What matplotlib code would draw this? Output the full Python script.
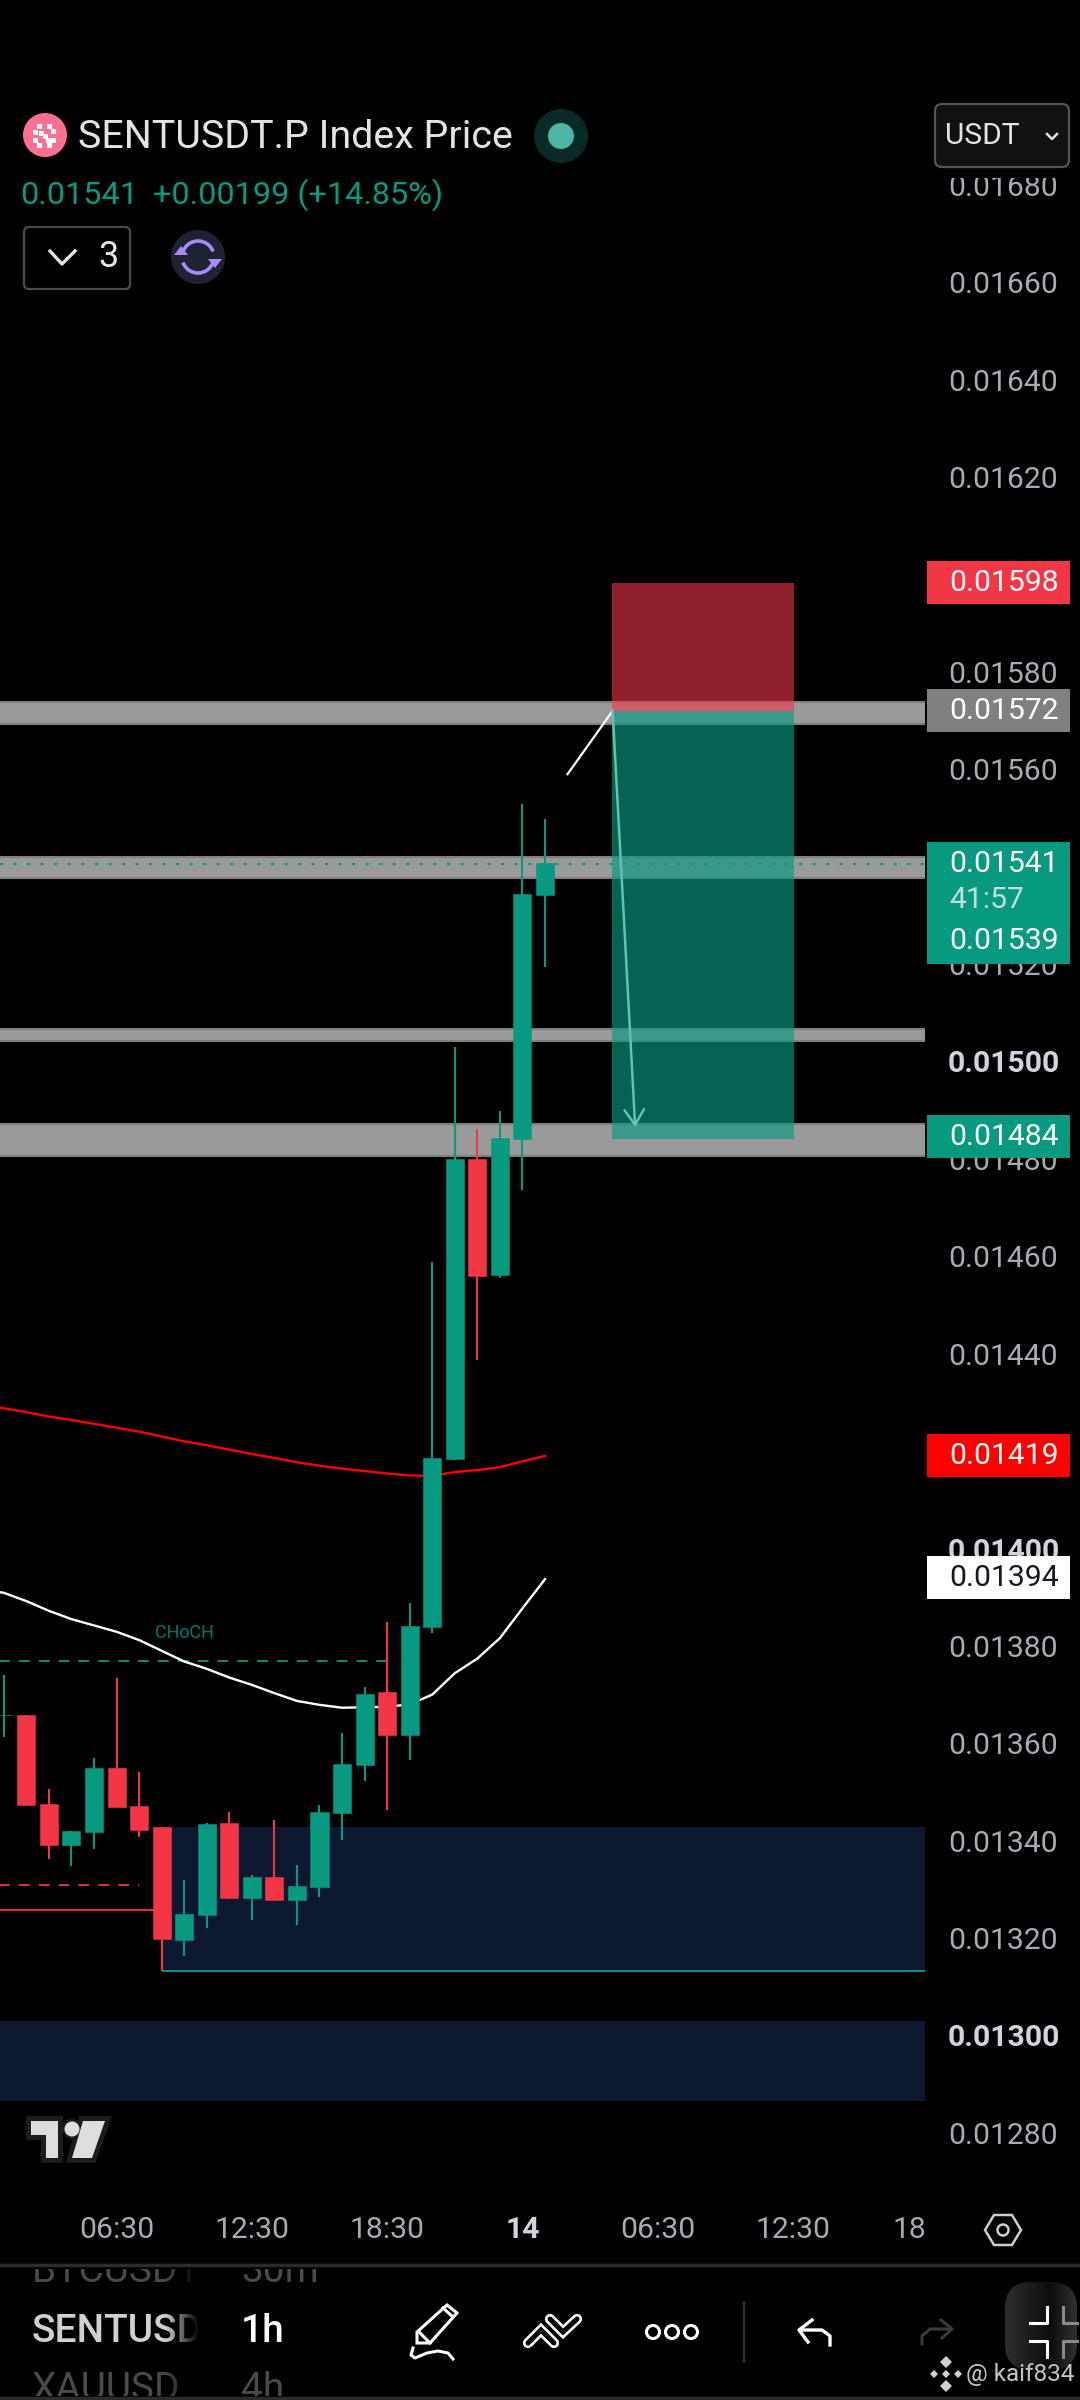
import numpy as np
import matplotlib
matplotlib.use('Agg')
import matplotlib.pyplot as plt
from matplotlib.patches import Rectangle, Circle, FancyBboxPatch, Polygon, Arc

plt.rcParams['font.family'] = ['Roboto', 'DejaVu Sans']

GREEN = '#089981'
RED = '#f23645'
TICK_GREY = '#a8abb3'

# candles, bar 0 is the one cut off at the left edge
opens = [0.013658, 0.013658, 0.013475, 0.013391, 0.013418, 0.013549, 0.013471, 0.013428, 0.013196,
         0.013247, 0.013437, 0.013283, 0.013325, 0.013278, 0.013305, 0.013457, 0.013555, 0.013705,
         0.013617, 0.013839, 0.014184, 0.014800, 0.014562, 0.014841, 0.015342]
closes = [0.013659, 0.013474, 0.013391, 0.013420, 0.013549, 0.013469, 0.013422, 0.013198, 0.013250,
          0.013434, 0.013283, 0.013325, 0.013278, 0.013307, 0.013459, 0.013558, 0.013702, 0.013617,
          0.013841, 0.014186, 0.014800, 0.014560, 0.014843, 0.015344, 0.015407]
highs = [0.013741, 0.013658, 0.013506, 0.013420, 0.013570, 0.013734, 0.013541, 0.013428, 0.013320,
         0.013437, 0.013459, 0.013330, 0.013442, 0.013350, 0.013474, 0.013621, 0.013716, 0.013849,
         0.013888, 0.014589, 0.015030, 0.014862, 0.014898, 0.015529, 0.015497]
lows = [0.013612, 0.013474, 0.013362, 0.013348, 0.013383, 0.013469, 0.013408, 0.013133, 0.013163,
        0.013221, 0.013280, 0.013237, 0.013278, 0.013227, 0.013284, 0.013401, 0.013522, 0.013463,
        0.013566, 0.013827, 0.014182, 0.014388, 0.014556, 0.014736, 0.015195]

# moving averages, first value sits one bar left of the visible area
ema_bars = list(range(-1, 25))
ema_red = [0.014296, 0.014288, 0.014280, 0.014271, 0.014264, 0.014256, 0.014248, 0.014240, 0.014230,
           0.014220, 0.014212, 0.014203, 0.014194, 0.014186, 0.014177, 0.014170, 0.014164, 0.014159,
           0.014154, 0.014150, 0.014149, 0.014157, 0.014161, 0.014167, 0.014179, 0.014190]
ema_white = [0.013916, 0.013909, 0.013892, 0.013872, 0.013855, 0.013842, 0.013829, 0.013812, 0.013790,
             0.013768, 0.013753, 0.013735, 0.013720, 0.013703, 0.013687, 0.013679, 0.013673, 0.013674,
             0.013675, 0.013680, 0.013700, 0.013744, 0.013774, 0.013816, 0.013877, 0.013937]

# grey horizontal zones (top, bottom)
band_tops = [0.015738, 0.015420, 0.015067, 0.014872]
band_bottoms = [0.015693, 0.015377, 0.015042, 0.014806]

# y axis
price_ticks = [0.0128 + 0.0002 * i for i in range(21)]
bold_ticks = ['0.01300', '0.01400', '0.01500']

# x axis
time_bars = [5, 11, 17, 23, 29, 35, 40.14]
time_labels = ['06:30', '12:30', '18:30', '14', '06:30', '12:30', '18']

# price tags on the right
tag_prices = [0.015983, 0.015720, 0.014845, 0.014190, 0.013940]
tag_labels = ['0.01598', '0.01572', '0.01484', '0.01419', '0.01394']
tag_fills = [RED, '#808080', GREEN, '#ff0000', '#ffffff']
tag_texts = ['#ffffff', '#ffffff', '#ffffff', '#ffffff', '#131722']

fig = plt.figure(figsize=(10.8, 24), dpi=100, facecolor='black')

# chart area is 925 px wide, from y=172 to y=2190 px
ax = fig.add_axes([0, (2400 - 2190) / 2400, 925 / 1080, (2190 - 172) / 2400])
ax.set_facecolor('black')
for s in ax.spines.values():
    s.set_visible(False)

PX = 0.0002 / 97.4
BAR = 22.55
ax.set_xlim(-3.8 / BAR, (925 - 3.8) / BAR)
ax.set_ylim(0.0166 - (2190 - 282.3) * PX, 0.0166 - (172 - 282.3) * PX)

# zones
ax.axhspan(0.013133, 0.013428, xmin=(162 / 925), xmax=1, color='#0c1830', lw=0, zorder=1)
ax.axhspan(0.012866, 0.013030, color='#0c1830', lw=0, zorder=1)
ax.hlines(0.013133, 7, 41, color='#089f94', lw=1.3, zorder=2)
for top, bottom in zip(band_tops, band_bottoms):
    ax.axhspan(bottom, top, color='#9a9a9a', lw=0, zorder=1)
    ax.axhline(top, color='#808080', lw=1.5, zorder=1.1)
    ax.axhline(bottom, color='#808080', lw=1.5, zorder=1.1)

ax.axhline(0.015406, color=GREEN, lw=1.5, ls=(0, (1.5, 5)), zorder=1.5)

# structure lines
ax.hlines(0.013768, -1, 17, color=GREEN, lw=1.3, ls=(0, (6, 5)), zorder=1.6)
ax.hlines(0.013309, -1, 6, color=RED, lw=1.3, ls=(0, (6, 5)), zorder=1.6)
ax.hlines(0.013258, -1, 7, color=RED, lw=1.3, zorder=1.6)
ax.text(8, 0.013827, 'CHoCH', color='#067a68', fontsize=13, ha='center', va='center', zorder=2)

# moving averages go behind the candles
ax.plot(ema_bars, ema_red, color='#ff0000', lw=1.7, zorder=2)
ax.plot(ema_bars, ema_white, color='#ffffff', lw=1.7, zorder=2)

# candles
for i in range(len(opens)):
    col = GREEN if closes[i] >= opens[i] else RED
    ax.vlines(i, lows[i], highs[i], color=col, lw=1.5, zorder=3)
    ax.bar(i, abs(closes[i] - opens[i]), bottom=min(opens[i], closes[i]), width=0.8,
           color=col, edgecolor=col, linewidth=0.4, zorder=3.1)

# short position tool
ax.add_patch(Rectangle((26.97, 0.015720), 8.07, 0.015983 - 0.015720, facecolor=RED, alpha=0.6, lw=0, zorder=4))
ax.add_patch(Rectangle((26.97, 0.014841), 8.07, 0.015720 - 0.014841, facecolor=GREEN, alpha=0.65, lw=0, zorder=4))
ax.plot([25, 27], [0.015590, 0.015720], color='white', lw=1.6, zorder=5)
ax.annotate('', xy=(28, 0.014865), xytext=(27, 0.015720), zorder=5,
            arrowprops=dict(arrowstyle='->,head_length=1.1,head_width=0.7', color='#5cc4b0', lw=1.8,
                            shrinkA=0, shrinkB=0))

# axes
ax.yaxis.tick_right()
ax.set_yticks(price_ticks)
ax.set_yticklabels([f'{p:.5f}' for p in price_ticks])
ax.tick_params(axis='y', length=0, pad=16.5, labelsize=21.7, labelcolor=TICK_GREY)
for lab in ax.get_yticklabels():
    if lab.get_text() in bold_ticks:
        lab.set_fontweight('bold')
        lab.set_color('#d1d4dc')

ax.set_xticks(time_bars)
ax.set_xticklabels(time_labels)
ax.tick_params(axis='x', length=0, pad=19, labelsize=21.7, labelcolor=TICK_GREY)
ax.get_xticklabels()[3].set_fontweight('bold')
ax.get_xticklabels()[3].set_color('#d1d4dc')

# price tags, x in axes fraction and y in price
ytrans = ax.get_yaxis_transform()
TAG_X0, TAG_W, TAG_TX = 927 / 925, 143 / 925, 949 / 925
for p, lab, fill, tc in zip(tag_prices, tag_labels, tag_fills, tag_texts):
    ax.add_patch(Rectangle((TAG_X0, p - 21.5 * PX), TAG_W, 43 * PX, transform=ytrans, facecolor=fill,
                           lw=0, clip_on=False, zorder=6))
    ax.text(TAG_TX, p, lab, transform=ytrans, color=tc, fontsize=21.7, ha='left',
            va='center', zorder=7, clip_on=False)

# last price tag with countdown
ax.add_patch(Rectangle((TAG_X0, 0.015200), TAG_W, 0.015451 - 0.015200, transform=ytrans, facecolor=GREEN,
                       lw=0, clip_on=False, zorder=6))
ax.text(TAG_TX, 0.015406, '0.01541', transform=ytrans, color='white', fontsize=21.7,
        ha='left', va='center', zorder=7)
ax.text(TAG_TX, 0.015332, '41:57', transform=ytrans, color='#c0e0da', fontsize=21.7,
        ha='left', va='center', zorder=7)
ax.text(TAG_TX, 0.015247, '0.01539', transform=ytrans, color='white', fontsize=21.7,
        ha='left', va='center', zorder=7)

# --- app chrome, drawn in screen pixels on top of the chart ---
ui = fig.add_axes([0, 0, 1, 1], facecolor='none')
ui.axis('off')

# covers the top of the 0.01680 label
ui.add_patch(Rectangle((930, 100), 150, 78, facecolor='black', lw=0))

# header
ui.add_patch(Circle((45, 135), 22, facecolor='#ff6f91', lw=0))
for zx, zy in [(72, 65), (103, 65), (115, 80), (60, 82), (60, 106), (72, 120), (103, 122), (115, 105),
               (80, 85), (90, 95), (100, 105)]:
    ui.add_patch(Rectangle((15 + zx / 3 - 2.5, 105 + zy / 3 - 2.5), 5, 5, facecolor='white', lw=0))
ui.text(78, 137.5, 'SENTUSDT.P Index Price', color='#e3e4e6', fontsize=28.4, ha='left', va='center')
ui.add_patch(Circle((561, 136), 27, facecolor='#0a2a25', lw=0))
ui.add_patch(Circle((561, 136), 13, facecolor='#4db6a4', lw=0))
ui.text(20, 195, '0.01541', color=GREEN, fontsize=23.3, ha='left', va='center')
ui.text(153, 195, '+0.00199 (+14.85%)', color=GREEN, fontsize=23.3, ha='left', va='center')

ui.add_patch(FancyBboxPatch((27, 230), 100, 56, boxstyle='round,pad=3,rounding_size=5', facecolor='black',
                            edgecolor='#4a4a4a', lw=1.6))
ui.plot([50, 62, 75], [251, 264, 251], color='#e6e6e6', lw=2.4)
ui.text(108, 257, '3', color='#e6e6e6', fontsize=26, ha='center', va='center')
ui.add_patch(Circle((198, 257), 27, facecolor='#1e2233', lw=0))
ui.add_patch(Arc((198, 257), 32, 32, theta1=200, theta2=340, color='#a78bfa', lw=2.6))
ui.add_patch(Arc((198, 257), 32, 32, theta1=20, theta2=160, color='#a78bfa', lw=2.6))
ui.add_patch(Polygon([[208, 259], [222, 259], [215, 268]], facecolor='#a78bfa', lw=0))
ui.add_patch(Polygon([[174, 255], [188, 255], [181, 246]], facecolor='#a78bfa', lw=0))

ui.add_patch(FancyBboxPatch((938, 107), 128, 57, boxstyle='round,pad=3,rounding_size=7', facecolor='#111111',
                            edgecolor='#555555', lw=1.6))
ui.text(945, 136, 'USDT', color='#e3e4e6', fontsize=21.5, ha='left', va='center')
ui.plot([1047, 1052, 1057], [134, 139, 134], color='#e3e4e6', lw=1.8)

# tv logo, dark outline first then the fill
logo_t = [[31, 2121], [58, 2121], [58, 2158], [46, 2158], [46, 2135], [31, 2135]]
logo_slash = [[83, 2121], [105, 2121], [92, 2158], [72, 2158]]
for pts in (logo_t, logo_slash):
    ui.add_patch(Polygon(pts, facecolor='#1c1c1c', edgecolor='#1c1c1c', lw=7, joinstyle='miter'))
ui.add_patch(Circle((72, 2129), 10, facecolor='#1c1c1c', lw=0))
for pts in (logo_t, logo_slash):
    ui.add_patch(Polygon(pts, facecolor='#dcdedc', lw=0))
ui.add_patch(Circle((72, 2129), 7.5, facecolor='#dcdedc', lw=0))

# settings hexagon
ui.add_patch(Polygon([[985, 2230], [994, 2215], [1012, 2215], [1021, 2230], [1012, 2245], [994, 2245]],
                     facecolor='none', edgecolor='#cfcfcf', lw=1.8))
ui.add_patch(Circle((1003, 2230), 5.5, facecolor='none', edgecolor='#cfcfcf', lw=1.8))

# bottom toolbar
ui.plot([0, 1080], [2265, 2265], color='#2a2a30', lw=2.5)
ui.plot([0, 1080], [2398, 2398], color='#2a2a30', lw=2.5)
for label, tf, yy, col, wt in [('BTCUSDT', '30m', 2271, '#4a4a4a', 'normal'),
                               ('SENTUSDT', '1h', 2331, '#d0d0d0', 'medium'),
                               ('XAUUSD', '4h', 2389, '#4a4a4a', 'normal')]:
    t1 = ui.text(32, yy, label, color=col, fontsize=28, fontweight=wt, ha='left', va='center')
    t1.set_clip_path(Rectangle((0, 2269), 198, 127, transform=ui.transData))
    t1.set_clip_on(True)
    t2 = ui.text(241, yy, tf, color='white' if wt == 'medium' else col, fontsize=28, fontweight=wt,
                 ha='left', va='center')
    t2.set_clip_path(Rectangle((0, 2269), 1080, 127, transform=ui.transData))
    t2.set_clip_on(True)
# fade on the right of the symbol names
fade = np.zeros((1, 64, 4))
fade[0, :, 3] = np.linspace(0, 1, 64)
ui.imshow(fade, extent=(165, 199, 2396, 2269), aspect='auto', zorder=3)

# pencil
ui.add_patch(Polygon([[417, 2332], [447, 2305], [457, 2313], [430, 2343], [417, 2343]], facecolor='none',
                     edgecolor='white', lw=2.2))
ui.plot([419, 430], [2332, 2343], color='white', lw=2.2)
ui.plot([443, 453], [2308, 2317], color='white', lw=2.2)
ui.plot([413, 411, 415, 427, 438, 448, 453], [2348, 2355, 2358, 2353, 2351, 2353, 2359], color='white', lw=2.2)
# line tools, white stroke with a black core
for xs, ys in [([528, 541, 554], [2343, 2330, 2343]), ([550, 563, 577], [2319, 2332, 2319])]:
    ui.plot(xs, ys, color='white', lw=7.4, solid_capstyle='round', solid_joinstyle='miter')
    ui.plot(xs, ys, color='black', lw=3.6, solid_capstyle='round', solid_joinstyle='miter')
# three dots
for cx in (653, 672, 691):
    ui.add_patch(Circle((cx, 2332), 6.5, facecolor='none', edgecolor='white', lw=2.2))
ui.plot([744, 744], [2302, 2362], color='#333333', lw=1.6)
# undo / redo
ui.plot([830, 830, 822, 800], [2345, 2336, 2330, 2330], color='white', lw=2.4)
ui.plot([812, 799, 808], [2320, 2330, 2342], color='white', lw=2.4)
ui.plot([922, 922, 930, 950], [2344, 2336, 2329, 2329], color='#3a3a3a', lw=2.2)
ui.plot([941, 952, 942], [2320, 2329, 2338], color='#3a3a3a', lw=2.2)

# fullscreen button, grey that fades out in the middle
button = FancyBboxPatch((1008, 2285), 66, 82, boxstyle='round,pad=3,rounding_size=26', facecolor='none', lw=0)
ui.add_patch(button)
shade = np.interp(np.arange(72), [0, 45, 72], [0.18, 0.05, 0.2])
grad = ui.imshow(np.tile(shade, (2, 1)), extent=(1005, 1077, 2370, 2282), aspect='auto', cmap='gray',
                 vmin=0, vmax=1, zorder=2)
grad.set_clip_path(button)
for xs, ys, col in [([1030, 1047, 1047], [2323, 2323, 2307], 'white'),
                    ([1063, 1063, 1077], [2307, 2323, 2323], '#8a8a8a'),
                    ([1030, 1047, 1047], [2341, 2341, 2357], 'white'),
                    ([1063, 1063, 1077], [2357, 2341, 2341], '#8a8a8a')]:
    ui.plot(xs, ys, color=col, lw=2.2, zorder=3)

# watermark, small binance mark
for cx, cy, r in [(946, 2362, 6), (946, 2386, 6), (934, 2374, 4), (958, 2374, 4), (946, 2374, 4)]:
    ui.add_patch(Polygon([[cx, cy - r], [cx + r, cy], [cx, cy + r], [cx - r, cy]], facecolor='#d0d0d0', lw=0, zorder=4))
ui.text(966, 2374, '@ kaif834', color='#c4c4c4', fontsize=17.5, ha='left', va='center', zorder=4)

ui.set_xlim(0, 1080)
ui.set_ylim(2400, 0)

fig.savefig('out.png', dpi=100, facecolor='black')
